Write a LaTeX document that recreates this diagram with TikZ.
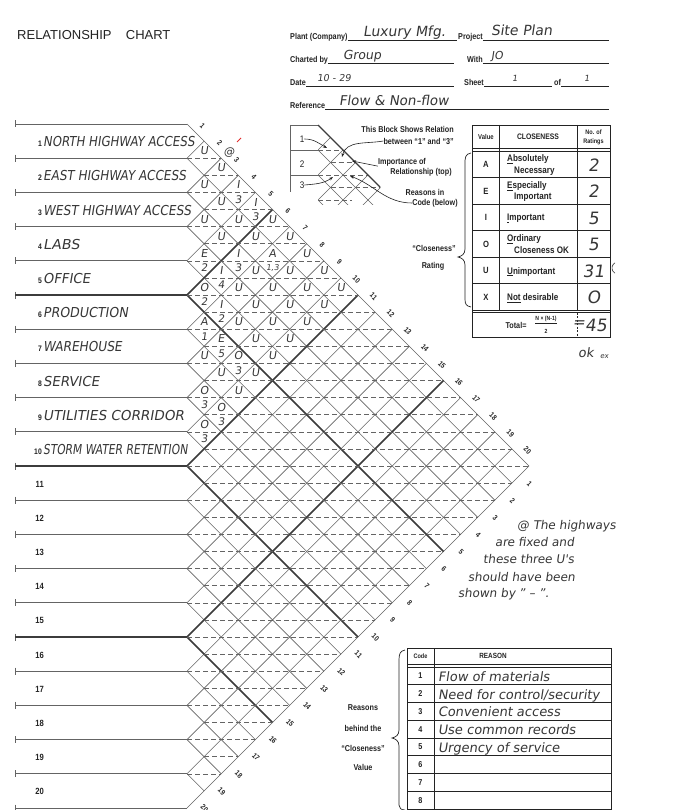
\documentclass[tikz,border=0pt]{standalone}
\usepackage{fontspec}
\setmainfont{Liberation Sans}
\newfontfamily\formfont[FakeStretch=0.85]{Liberation Sans}
\newfontfamily\handfont[FakeSlant=0.15]{DejaVu Sans}
\newfontfamily\handcaps[FakeSlant=0.15,FakeStretch=0.86]{DejaVu Sans}
\usetikzlibrary{positioning,arrows.meta,calc}
\definecolor{printink}{RGB}{35,35,35}
\definecolor{ruleink}{RGB}{100,100,100}
\definecolor{penink}{RGB}{55,55,55}
\definecolor{redtick}{RGB}{225,45,45}
\tikzset{
  rowrule/.style={draw=ruleink,line width=0.8pt},
  boldrule/.style={draw=ruleink!60!black,line width=1.5pt},
  diamondline/.style={draw=ruleink,line width=0.6pt},
  splitline/.style={draw=ruleink,line width=0.6pt,dash pattern=on 5pt off 3pt},
  tablerule/.style={draw=printink,line width=0.8pt},
  formrule/.style={draw=printink,line width=0.6pt},
  pointer/.style={-{Stealth[length=4pt,width=3pt]},draw=printink,line width=0.6pt},
  printlbl/.style={text=printink,inner sep=0pt,font=\formfont\bfseries\fontsize{#1}{#1}\selectfont},
  printlbl/.default=8,
  plainlbl/.style={text=printink,inner sep=0pt,font=\formfont\fontsize{#1}{#1}\selectfont},
  plainlbl/.default=9,
  penlbl/.style={text=penink,inner sep=0pt,font=\handfont\fontsize{#1}{#1}\selectfont},
  penlbl/.default=12,
  capslbl/.style={text=penink,inner sep=0pt,font=\handcaps\fontsize{#1}{#1}\selectfont},
  capslbl/.default=13.7,
  formlbl/.style={anchor=base west,inner sep=0pt,text=printink,font=\formfont\bfseries\fontsize{8.5}{9}\selectfont},
  formpen/.style={anchor=base west,inner sep=0pt,text=penink,font=\handfont\fontsize{#1}{#1}\selectfont},
  edgenum/.style={text=printink,inner sep=0pt,rotate=-45,font=\formfont\bfseries\fontsize{7.5}{7.5}\selectfont}
}

\begin{document}
\begin{tikzpicture}[x=1pt,y=-1pt]
\fill[white] (0,0) rectangle (682,810);
\useasboundingbox (0,0) rectangle (682,810);

% title and heading form
\node[anchor=base west,inner sep=0pt,text=printink,font=\fontsize{13}{13}\selectfont] (title) at (17,40) {RELATIONSHIP\hspace{1.1em}CHART};
\node[formlbl] (plant) at (290,40) {Plant (Company)};
\draw[formrule] (plant.base east) -- (457,40);
\node[formpen=14] (plantval) at (363,37) {Luxury Mfg.};
\node[formlbl] (project) at (458,40) {Project};
\draw[formrule] (project.base east) -- (609,40);
\node[formpen=14] (projectval) at (491,36) {Site Plan};
\node[formlbl] (charted) at (290,63) {Charted by};
\draw[formrule] (charted.base east) -- (454,63);
\node[formpen=12.5] (chartedval) at (343,60) {Group};
\node[formlbl] (with) at (467,63) {With};
\draw[formrule] (with.base east) -- (609,63);
\node[formpen=11] (withval) at (491,60) {JO};
\node[formlbl] (date) at (290,86) {Date};
\draw[formrule] (date.base east) -- (454,86);
\node[formpen=9.5] (dateval) at (317,82) {10 - 29};
\node[formlbl] (sheet) at (464,86) {Sheet};
\draw[formrule] (sheet.base east) -- (552,86);
\node[formpen=8.5] (sheetval) at (512,82) {1};
\node[formlbl] (sheetof) at (554,86) {of};
\draw[formrule] (sheetof.base east) -- (609,86);
\node[formpen=8.5] (sheetofval) at (584,82) {1};
\node[formlbl] (reference) at (290,109) {Reference};
\draw[formrule] (reference.base east) -- (609,109);
\node[formpen=13.5] (referenceval) at (339,106) {Flow \& Non-flow};

% row rules and diamond lattice
\foreach \k in {0,...,20}{
  \pgfmathsetmacro\yk{124+\k*34.2}
  \pgfmathsetmacro\dn{(808-\yk)/2}
  \pgfmathsetmacro\up{(\yk-124)/2}
  \draw[rowrule] (15,\yk) -- (187,\yk);
  \draw[rowrule] (15,\yk-3.5) -- (15,\yk+3.5);
  \draw[diamondline] (187,\yk) -- ++(\dn,\dn);
  \draw[diamondline] (187,\yk) -- ++(\up,-\up);
}
\foreach \k in {5,10,15}{
  \pgfmathsetmacro\yk{124+\k*34.2}
  \pgfmathsetmacro\dn{(808-\yk)/2}
  \pgfmathsetmacro\up{(\yk-124)/2}
  \draw[boldrule] (15,\yk) -- (187,\yk);
  \draw[boldrule] (187,\yk) -- ++(\dn,\dn);
  \draw[boldrule] (187,\yk) -- ++(\up,-\up);
}
\foreach \m in {2,...,38}{
  \pgfmathsetmacro\yy{124+\m*17.1}
  \pgfmathsetmacro\xs{187+17.1*mod(\m,2)}
  \pgfmathsetmacro\xe{187+17.1*min(\m,40-\m)}
  \draw[splitline] (\xs,\yy) -- (\xe,\yy);
}

% numbers along both edges
\foreach \k in {1,...,20}{
  \pgfmathsetmacro\t{(\k-0.5)*17.1}
  \node[edgenum] (top\k) at (187+\t+7,124+\t-7) {\k};
  \node[edgenum] (bot\k) at (529-\t+9,466+\t+9) {\k};
}

% activity names
\foreach \n/\name/\sx in {1/NORTH HIGHWAY ACCESS/1,2/EAST HIGHWAY ACCESS/1.02,3/WEST HIGHWAY ACCESS/1.03,4/LABS/1.2,5/OFFICE/1.12,6/PRODUCTION/1.07,7/WAREHOUSE/1.03,8/SERVICE/1.13,9/UTILITIES CORRIDOR/1.15,10/STORM WATER RETENTION/0.91}{
  \pgfmathsetmacro\yc{124+(\n-0.5)*34.2}
  \node[printlbl=8,anchor=base east] (num\n) at (42,\yc+5.5) {\n};
  \node[capslbl,anchor=base west] (row\n) at (43,\yc+5.5) {\scalebox{\sx}[1]{\name}};
}
\foreach \n in {11,...,20}{
  \pgfmathsetmacro\yc{124+(\n-0.5)*34.2}
  \node[printlbl=9,anchor=base east] (num\n) at (44,\yc+4) {\n};
}

% closeness ratings and reasons in the diamonds
\foreach \i/\j/\imp/\why in {1/2/U/{},1/3/U/{},2/3/U/{},1/4/I/3,2/4/U/{},1/5/I/3,3/4/U/{},2/5/U/{},1/6/U/{},3/5/U/{},2/6/U/{},1/7/U/{},4/5/E/2,3/6/I/3,2/7/A/{\fontsize{8}{8}\selectfont 1,3},1/8/U/{},4/6/I/4,3/7/U/{},2/8/U/{},1/9/U/{},5/6/O/2,4/7/U/{},3/8/U/{},2/9/U/{},1/10/U/{},5/7/I/2,4/8/U/{},3/9/U/{},2/10/U/{},6/7/A/1,5/8/U/{},4/9/U/{},3/10/U/{},6/8/E/5,5/9/U/{},4/10/U/{},7/8/U/{},6/9/O/3,5/10/U/{},7/9/U/{},6/10/U/{},8/9/O/3,7/10/U/{},8/10/O/3,9/10/O/3}{
  \pgfmathsetmacro\cx{187+(\j-\i)*17.1}
  \pgfmathsetmacro\cy{124+(\i+\j-1)*17.1}
  \node[penlbl=11] (imp-\i-\j) at (\cx,\cy-7.5) {\imp};
  \node[penlbl=10.5] (why-\i-\j) at (\cx,\cy+7) {\why};
}
\node[penlbl=11] (atmark) at (229,153) {@};
\draw[redtick,line width=0.8pt] (237,142) -- (241,138);

% sample block
\draw[rowrule] (290,125) -- (290,192);
\foreach \yy in {125,150,175} \draw[rowrule] (290,\yy) -- (318,\yy);
\begin{scope}
  \clip (318,125) -- (381,188) -- (381,205) -- (318,205) -- cycle;
  \foreach \yy in {150,175,200} \draw[diamondline] (318,\yy) -- ++(70,70);
  \foreach \yy in {150,175,200,225,250} \draw[diamondline] (318,\yy) -- ++(80,-80);
\end{scope}
\draw[splitline] (318,150) -- (343,150);
\draw[splitline] (330.5,162.5) -- (355.5,162.5);
\draw[splitline] (318,175) -- (368,175);
\draw[splitline] (330.5,187.5) -- (380,187.5);
\draw[splitline] (318,200) -- (352,200);
\draw[boldrule,line width=1.2pt] (318,125) -- (380,187);
\node[plainlbl=9.5] (mini1) at (302,139) {1};
\node[plainlbl=9.5] (mini2) at (302,164) {2};
\node[plainlbl=9.5] (mini3) at (302,185) {3};
\coordinate (hit12) at (327,148);
\coordinate (hit3) at (333,177);
\coordinate (hit13) at (342,157);
\coordinate (hittop) at (352,161);
\coordinate (hitcode) at (350,176);
\draw[pointer] (mini1.east) to[out=0,in=150] (hit12);
\draw[pointer] (mini3.east) to[out=5,in=215] (hit3);
\node[printlbl=8.5,anchor=east] (blockcap) at (454,129) {This Block Shows Relation};
\node[printlbl=8.5,anchor=east] (blockpair) at (454,141) {between “1” and “3”};
\draw[pointer] (blockpair.west) to[out=190,in=75] (hit13);
\node[printlbl=8.5] (impcap) at (402,162) {Importance of};
\node[printlbl=8.5] (impcap2) at (421,172) {Relationship (top)};
\draw[pointer] (impcap.south west) -- (hittop);
\node[printlbl=8.5] (codecap) at (425,192) {Reasons in};
\node[printlbl=8.5] (codecap2) at (435,203) {Code (below)};
\draw[pointer] (codecap2.west) to[out=180,in=-20] (hitcode);

% closeness table
\draw[tablerule] (472,125) rectangle (610,337);
\draw[tablerule] (472,148) -- (610,148);
\draw[tablerule] (472,151) -- (610,151);
\foreach \yy in {177.5,204,230.5,257,283.5} \draw[tablerule] (472,\yy) -- (610,\yy);
\draw[tablerule] (472,310) -- (610,310);
\draw[tablerule] (472,312.5) -- (610,312.5);
\draw[tablerule] (499,125) -- (499,310);
\draw[tablerule] (577,125) -- (577,310);
\draw[tablerule,dash pattern=on 2pt off 1.5pt] (577,312.5) -- (577,337);
\node[printlbl=7] (valhead) at (486,137) {Value};
\node[printlbl=8] (closehead) at (538,137) {CLOSENESS};
\node[printlbl=6.5] (numhead) at (593.5,132) {No. of};
\node[printlbl=6.5] (ratehead) at (593.5,142) {Ratings};
\foreach \v/\yt/\cnt in {A/151/2,E/177.5/2,I/204/5,O/230.5/5,U/257/31,X/283.5/O}{
  \node[printlbl=9] (val\v) at (486,\yt+13.5) {\v};
  \node[penlbl=17] (cnt\v) at (593.5,\yt+14) {\cnt};
}
\foreach \v/\yt/\wa/\wb in {A/151/\underline{A}bsolutely/Necessary,E/177.5/\underline{E}specially/Important,O/230.5/\underline{O}rdinary/Closeness OK}{
  \node[printlbl=9.5,anchor=base west] (word\v) at (507,\yt+11) {\wa};
  \node[printlbl=9.5,anchor=base west] (wordb\v) at (514,\yt+22.5) {\wb};
}
\foreach \v/\yt/\wa in {I/204/\underline{I}mportant,U/257/\underline{U}nimportant,X/283.5/\underline{Not} desirable}{
  \node[printlbl=9.5,anchor=base west] (word\v) at (507,\yt+17) {\wa};
}
\draw[penink,line width=0.6pt] (615,262.8) arc[start angle=240,end angle=120,radius=6];
\node[printlbl=8.5] (totallbl) at (516,325) {Total=};
\node[printlbl=6] (fracnum) at (546,319) {N × (N-1)};
\node[printlbl=6] (fracden) at (546,331) {2};
\draw[tablerule,line width=0.5pt] ([yshift=-1pt]fracnum.south west) -- ([yshift=-1pt]fracnum.south east);
\node[penlbl=15] (totaleq) at (579,324) {=};
\node[penlbl=17] (totalval) at (596,325) {45};
\node[penlbl=13,anchor=base west] (okmark) at (578,357) {ok};
\node[penlbl=7,anchor=base west] (okmore) at (600,358) {ex};
\draw[printink,line width=0.7pt] (471,153) .. controls (465,154) and (465,158) .. (465,164) -- (465,249)
  .. controls (465,254) and (462,256) .. (458,257) .. controls (462,258) and (465,260) .. (465,265)
  -- (465,299) .. controls (465,304) and (466,306) .. (471,307);
\node[printlbl=8.5] (ratingcap) at (434,248) {“Closeness”};
\node[printlbl=8.5] (ratingcap2) at (433,266) {Rating};

% note on the highways
\node[penlbl=12,anchor=base west] (note1) at (517,529) {@ The highways};
\node[penlbl=12,anchor=base west] (note2) at (495,546) {are fixed and};
\node[penlbl=12,anchor=base west] (note3) at (483,563) {these three U's};
\node[penlbl=12,anchor=base west] (note4) at (468,581) {should have been};
\node[penlbl=12,anchor=base west] (note5) at (458,597) {shown by ” – ”.};

% reason table
\draw[tablerule] (407,648) rectangle (611,809);
\draw[tablerule] (407,664) -- (611,664);
\draw[tablerule] (407,667) -- (611,667);
\foreach \r in {1,...,7} \draw[tablerule] (407,667+\r*17.75) -- (611,667+\r*17.75);
\draw[tablerule] (434,648) -- (434,809);
\node[printlbl=6.5] (codehead) at (420.5,656) {Code};
\node[printlbl=7.5] (reasonhead) at (493,655.5) {REASON};
\foreach \r in {1,...,8}{
  \node[printlbl=8.5] (code\r) at (420.5,667+\r*17.75-8.9) {\r};
}
\foreach \r/\txt in {1/Flow of materials,2/{Need for control/security},3/Convenient access,4/Use common records,5/Urgency of service}{
  \node[penlbl=13,anchor=base west] (reason\r) at (438,667+\r*17.75-3.5) {\txt};
}
\draw[printink,line width=0.7pt] (405,650) .. controls (400,651) and (399,654) .. (399,660) -- (399,730)
  .. controls (399,735) and (396,737) .. (392,738) .. controls (396,739) and (399,741) .. (399,746)
  -- (399,805) .. controls (399,808) and (401,810) .. (405,810);
\node[printlbl=8.5] (whycap1) at (363,708) {Reasons};
\node[printlbl=8.5] (whycap2) at (363,728) {behind the};
\node[printlbl=8.5] (whycap3) at (363,748) {“Closeness”};
\node[printlbl=8.5] (whycap4) at (363,767) {Value};
\end{tikzpicture}
\end{document}
